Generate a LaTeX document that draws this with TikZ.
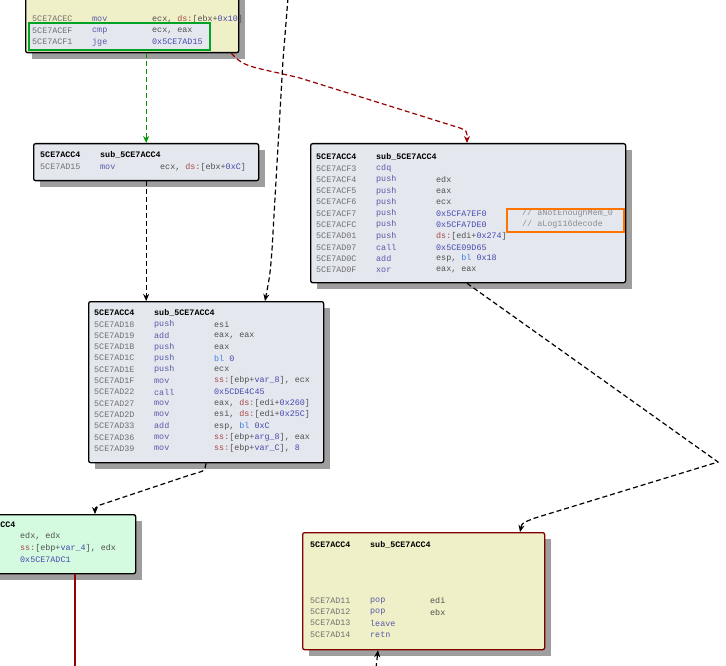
\documentclass[tikz,border=0pt]{standalone}
\usepackage{fontspec}
\setmonofont{Liberation Mono}
\usetikzlibrary{arrows.meta,calc}
\definecolor{addrc}{HTML}{707070}
\definecolor{mnc}{HTML}{5858A8}
\definecolor{opc}{HTML}{505050}
\definecolor{regc}{HTML}{A84848}
\definecolor{numc}{HTML}{4848B0}
\definecolor{blc}{HTML}{4080E0}
\definecolor{yelf}{HTML}{F0F0C8}
\definecolor{grayf}{HTML}{E4E8EE}
\definecolor{grnf}{HTML}{D4FADF}
\newcommand\Ds{\textcolor{regc}{ds:}}
\newcommand\Ss{\textcolor{regc}{ss:}}
\newcommand\N[1]{\textcolor{numc}{#1}}
\newcommand\Bl{\textcolor{blc}{bl}}
% \asmrow{name}{x}{y}{addr}{mnemonic}{operands}
\newcommand\asmrow[6]{%
  \node[txt,text=addrc] (#1a) at (#2,#3) {#4};
  \node[txt,text=mnc] (#1m) at (#2+60,#3) {#5};
  \node[txt,text=opc] (#1o) at (#2+120,#3) {#6};}
\newcommand\asmhead[3]{%
  \node[txt,font=\ttfamily\fontsize{8.4}{9}\selectfont\bfseries] (#1a) at (#2,#3) {5CE7ACC4};
  \node[txt,font=\ttfamily\fontsize{8.4}{9}\selectfont\bfseries] (#1m) at (#2+60,#3) {sub\_5CE7ACC4};}
\tikzset{
  txt/.style={anchor=west,inner sep=0pt,font=\ttfamily\fontsize{8.4}{9}\selectfont},
  box/.style={draw=black,line width=1.3pt,rounded corners=2pt,anchor=north west,inner sep=0pt},
  shadow/.style={fill=black!38,draw=none},
  dsh/.style={dash pattern=on 5pt off 3pt,line width=1.2pt,-{Stealth[length=7pt,width=6pt]}},
}
\begin{document}
\begin{tikzpicture}[x=1pt,y=-1pt]
\useasboundingbox (0,0) rectangle (726,666);
\begin{scope}
\clip (0,0) rectangle (726,666);
% shadows
\fill[shadow] (32,-10) rectangle (245,59);
\fill[shadow] (40,150) rectangle (265,187);
\fill[shadow] (317,150) rectangle (632,289);
\fill[shadow] (95,308) rectangle (330,469);
\fill[shadow] (-20,521) rectangle (142,580);
\fill[shadow] (309,539) rectangle (551,656);
% boxes
\node[box,fill=yelf,minimum width=213pt,minimum height=62pt] (T) at (25,-10) {};
\node[box,fill=grayf,minimum width=225pt,minimum height=37pt] (A) at (33,143) {};
\node[box,fill=grayf,minimum width=315pt,minimum height=139pt] (B) at (310,143) {};
\node[box,fill=grayf,minimum width=235pt,minimum height=161pt] (C) at (88,301) {};
\node[box,fill=grnf,minimum width=155pt,minimum height=59pt] (D) at (-20,514) {};
\node[box,draw=black!50!red,fill=yelf,minimum width=242pt,minimum height=117pt] (E) at (302,532) {};
% top box
\fill[grayf] (29,23) rectangle (209,49);
\asmrow{t1}{32}{19}{5CE7ACEC}{mov}{ecx, \Ds[ebx+\N{0x10}]}
\asmrow{t2}{32}{31}{5CE7ACEF}{cmp}{ecx, eax}
\asmrow{t3}{32}{42}{5CE7ACF1}{jge}{\N{0x5CE7AD15}}
\node[draw=black!30!green!70!teal,line width=2pt,anchor=north west,minimum width=181pt,minimum height=27pt,inner sep=0pt] (G) at (28,22.5) {};
% A
\asmhead{ah}{40}{155}
\asmrow{a1}{40}{167}{5CE7AD15}{mov}{ecx, \Ds[ebx+\N{0xC}]}
% B
\asmhead{bh}{316}{157}
\asmrow{b1}{316}{168.3}{5CE7ACF3}{cdq}{}
\asmrow{b2}{316}{179.6}{5CE7ACF4}{push}{edx}
\asmrow{b3}{316}{190.9}{5CE7ACF5}{push}{eax}
\asmrow{b4}{316}{202.2}{5CE7ACF6}{push}{ecx}
\asmrow{b5}{316}{213.5}{5CE7ACF7}{push}{\N{0x5CFA7EF0}}
\asmrow{b6}{316}{224.8}{5CE7ACFC}{push}{\N{0x5CFA7DE0}}
\asmrow{b7}{316}{236.1}{5CE7AD01}{push}{\Ds[edi+\N{0x274}]}
\asmrow{b8}{316}{247.4}{5CE7AD07}{call}{\N{0x5CE09D65}}
\asmrow{b9}{316}{258.7}{5CE7AD0C}{add}{esp, \Bl\ \N{0x18}}
\asmrow{b10}{316}{270}{5CE7AD0F}{xor}{eax, eax}
\node[txt,text=black!45] (c1) at (522,213.5) {// aNotEnoughMem\_0};
\node[txt,text=black!45] (c2) at (522,224.8) {// aLog116decode};
\node[draw=orange!90!red,line width=2pt,anchor=north west,minimum width=117pt,minimum height=23pt,inner sep=0pt] (O) at (506,208) {};
% C
\asmhead{ch}{94}{313}
\asmrow{c01}{94}{324.3}{5CE7AD18}{push}{esi}
\asmrow{c02}{94}{335.6}{5CE7AD19}{add}{eax, eax}
\asmrow{c03}{94}{346.9}{5CE7AD1B}{push}{eax}
\asmrow{c04}{94}{358.2}{5CE7AD1C}{push}{\Bl\ \N{0}}
\asmrow{c05}{94}{369.5}{5CE7AD1E}{push}{ecx}
\asmrow{c06}{94}{380.8}{5CE7AD1F}{mov}{\Ss[ebp+\N{var\_8}], ecx}
\asmrow{c07}{94}{392.1}{5CE7AD22}{call}{\N{0x5CDE4C45}}
\asmrow{c08}{94}{403.4}{5CE7AD27}{mov}{eax, \Ds[edi+\N{0x260}]}
\asmrow{c09}{94}{414.7}{5CE7AD2D}{mov}{esi, \Ds[edi+\N{0x25C}]}
\asmrow{c10}{94}{426}{5CE7AD33}{add}{esp, \Bl\ \N{0xC}}
\asmrow{c11}{94}{437.3}{5CE7AD36}{mov}{\Ss[ebp+\N{arg\_8}], eax}
\asmrow{c12}{94}{448.6}{5CE7AD39}{mov}{\Ss[ebp+\N{var\_C}], \N{8}}
% D
\node[txt,font=\ttfamily\fontsize{8.4}{9}\selectfont\bfseries] (dh) at (-25,525) {5CE7ACC4};
\node[txt,text=opc] (d1) at (20,536.5) {edx, edx};
\node[txt,text=opc] (d2) at (20,548) {\Ss[ebp+\N{var\_4}], edx};
\node[txt,text=opc] (d3) at (20,559.3) {\N{0x5CE7ADC1}};
% E
\asmhead{eh}{310}{545}
\asmrow{e1}{310}{601}{5CE7AD11}{pop}{edi}
\asmrow{e2}{310}{612}{5CE7AD12}{pop}{ebx}
\asmrow{e3}{310}{623}{5CE7AD13}{leave}{}
\asmrow{e4}{310}{635}{5CE7AD14}{retn}{}
% edges
\coordinate (top1) at (288,-2);
\coordinate (bend) at (718,462);
\coordinate (bot1) at (376,668);
\coordinate (bot2) at (75,668);
\draw[dsh,green!60!black] (T.south -| A.south) -- (A.north);
\draw[dsh,black!40!red] ($(T.south east)+(-8,0)$) .. controls (245,68) and (250,66) .. (300,78) -- (460,128) .. controls (467,131) .. (B.north -| 467,0);
\draw[dsh] (top1) -- (283,60) -- (272,250) .. controls (270,275) .. (C.north -| 265,0);
\draw[dsh] (A.south) -- (C.north -| A.south);
\draw[dsh] (B.south -| 467,0) -- (bend) -- (535,518) .. controls (522,523) .. (E.north -| 520,0);
\draw[dsh] (C.south) -- (205,468) .. controls (204,471) .. (190,475) -- (100,505) .. controls (95,508) .. (D.north -| 95,0);
\draw[black!40!red,line width=1.2pt] (D.south -| 75,0) -- (bot2);
\draw[dsh] (bot1) -- (E.south -| 378,0);
\end{scope}
\end{tikzpicture}
\end{document}
